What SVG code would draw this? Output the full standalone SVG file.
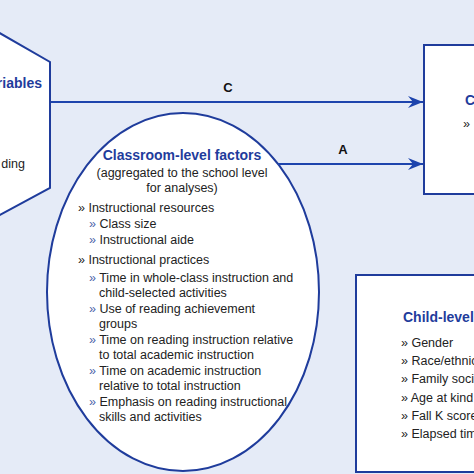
<svg xmlns="http://www.w3.org/2000/svg" width="474" height="474" viewBox="0 0 474 474">
<defs>
<style>
.bg{fill:#e5ebf7}
.shape{fill:#ffffff;stroke:#1f3c9c;stroke-width:2}
.conn{stroke:#1d44ad;stroke-width:2;fill:none}
.title{font-family:"Liberation Sans",Arial,sans-serif;font-weight:bold;font-size:14px;fill:#1f3c9c}
.t{font-family:"Liberation Sans",Arial,sans-serif;font-size:12.5px;fill:#222222}
.lbl{font-family:"Liberation Sans",Arial,sans-serif;font-weight:bold;font-size:13px;fill:#111111}
.sb{fill:#4a63a8}
</style>
<marker id="arr" markerUnits="userSpaceOnUse" markerWidth="16" markerHeight="14" refX="15" refY="7" orient="auto">
<path d="M0,1 L15,7 L0,13 L5,7 z" fill="#1d44ad"/>
</marker>
</defs>
<rect class="bg" x="0" y="0" width="474" height="474"/>

<g id="background-variables">
<polygon class="shape" points="-30,16 50,62 50,188 -30,231"/>
<text class="title" x="42" y="88" text-anchor="end">riables</text>
<text class="t" x="25" y="168" text-anchor="end">ding</text>
</g>

<g id="classroom-level-factors">
<ellipse class="shape" cx="183" cy="292" rx="136" ry="179"/>
<text class="title" x="182" y="160" text-anchor="middle">Classroom-level factors</text>
<text class="t" x="182" y="177" text-anchor="middle">(aggregated to the school level</text>
<text class="t" x="182" y="192" text-anchor="middle">for analyses)</text>
<text class="t" x="78" y="212">» Instructional resources</text>
<text class="t" x="89" y="228"><tspan class="sb">»</tspan> Class size</text>
<text class="t" x="89" y="244"><tspan class="sb">»</tspan> Instructional aide</text>
<text class="t" x="78" y="264">» Instructional practices</text>
<text class="t" x="89" y="282"><tspan class="sb">»</tspan> Time in whole-class instruction and</text>
<text class="t" x="99" y="297">child-selected activities</text>
<text class="t" x="89" y="313"><tspan class="sb">»</tspan> Use of reading achievement</text>
<text class="t" x="99" y="328">groups</text>
<text class="t" x="89" y="344"><tspan class="sb">»</tspan> Time on reading instruction relative</text>
<text class="t" x="99" y="359">to total academic instruction</text>
<text class="t" x="89" y="375"><tspan class="sb">»</tspan> Time on academic instruction</text>
<text class="t" x="99" y="390">relative to total instruction</text>
<text class="t" x="89" y="406"><tspan class="sb">»</tspan> Emphasis on reading instructional</text>
<text class="t" x="99" y="421">skills and activities</text>
</g>

<g id="child-outcomes">
<rect class="shape" x="424" y="45" width="80" height="149"/>
<text class="title" x="465" y="105">C</text>
<text class="t" x="463" y="128">»</text>
</g>

<g id="child-level-factors">
<rect class="shape" x="356" y="275" width="140" height="197"/>
<text class="title" x="403" y="322">Child-level</text>
<text class="t" x="401" y="347">» Gender</text>
<text class="t" x="401" y="365">» Race/ethnic</text>
<text class="t" x="401" y="383">» Family socio</text>
<text class="t" x="401" y="402">» Age at kind</text>
<text class="t" x="401" y="420">» Fall K scores</text>
<text class="t" x="401" y="438">» Elapsed tim</text>
</g>

<g id="connectors">
<line class="conn" x1="51" y1="102" x2="423" y2="102" marker-end="url(#arr)"/>
<text class="lbl" x="228" y="92" text-anchor="middle">C</text>
<line class="conn" x1="278" y1="164" x2="423" y2="164" marker-end="url(#arr)"/>
<text class="lbl" x="343" y="154" text-anchor="middle">A</text>
</g>
</svg>
